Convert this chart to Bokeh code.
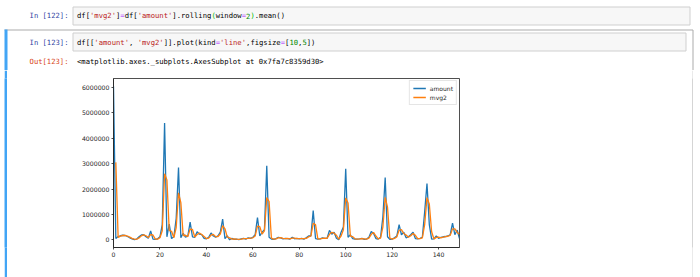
import numpy as np
from bokeh.plotting import figure
from bokeh.layouts import column, row
from bokeh.models import Range1d, FixedTicker, ColumnDataSource, Spacer
from bokeh.core.properties import value
from bokeh.embed import file_html
from bokeh.resources import INLINE

nan = float("nan")

# ---------------- data ----------------
index = list(range(150))
amount = [6050000, 50000, 130000, 160000, 180000, 170000, 130000, 80000, 40000, 10000,
          30000, 120000, 190000, 200000, 120000, 60000, 350000, 30000, 20000, 40000,
          120000, 600000, 4600000, 120000, 620000, 50000, 120000, 850000, 2850000, 80000,
          260000, 100000, 150000, 700000, 120000, 100000, 320000, 220000, 200000, 60000,
          40000, 100000, 270000, 150000, 100000, 160000, 300000, 820000, 50000, 160000,
          0, 60000, 20000, 30000, 10000, 40000, 60000, 30000, 80000, 60000,
          100000, 200000, 880000, 150000, 300000, 400000, 2920000, 100000, 30000, 20000,
          50000, 100000, 80000, 40000, 60000, 50000, 30000, 100000, 40000, 60000,
          40000, 60000, 30000, 80000, 150000, 150000, 1150000, 50000, 30000, 40000,
          80000, 60000, 60000, 370000, 220000, 300000, 60000, 0, 300000, 500000,
          2800000, 100000, 200000, 50000, 30000, 30000, 40000, 60000, 20000, 30000,
          100000, 330000, 250000, 50000, 30000, 100000, 900000, 2450000, 120000, 20000,
          30000, 80000, 150000, 600000, 200000, 300000, 80000, 120000, 200000, 300000,
          50000, 40000, 60000, 100000, 1100000, 2220000, 600000, 30000, 40000, 150000,
          60000, 100000, 120000, 130000, 150000, 200000, 660000, 200000, 380000, 50000]
mvg2 = [nan, 3050000, 90000, 145000, 170000, 175000, 150000, 105000, 60000, 25000,
        20000, 75000, 155000, 195000, 160000, 90000, 205000, 190000, 25000, 30000,
        80000, 360000, 2600000, 2360000, 370000, 335000, 85000, 485000, 1850000, 1465000,
        170000, 180000, 125000, 425000, 410000, 110000, 210000, 270000, 210000, 130000,
        50000, 70000, 185000, 210000, 125000, 130000, 230000, 560000, 435000, 105000,
        80000, 30000, 40000, 25000, 20000, 25000, 50000, 45000, 55000, 70000,
        80000, 150000, 540000, 515000, 225000, 350000, 1660000, 1510000, 65000, 25000,
        35000, 75000, 90000, 60000, 50000, 55000, 40000, 65000, 70000, 50000,
        50000, 50000, 45000, 55000, 115000, 150000, 650000, 600000, 40000, 35000,
        60000, 70000, 60000, 215000, 295000, 260000, 180000, 30000, 150000, 400000,
        1650000, 1450000, 150000, 125000, 40000, 30000, 35000, 50000, 40000, 25000,
        65000, 215000, 290000, 150000, 40000, 65000, 500000, 1675000, 1285000, 70000,
        25000, 55000, 115000, 375000, 400000, 250000, 190000, 100000, 160000, 250000,
        175000, 45000, 50000, 80000, 600000, 1660000, 1410000, 315000, 35000, 95000,
        105000, 80000, 110000, 125000, 140000, 175000, 430000, 430000, 290000, 215000]
series_names = ["amount", "mvg2"]
x_ticks = [0, 20, 40, 60, 80, 100, 120, 140]
x_tick_labels = ["0", "20", "40", "60", "80", "100", "120", "140"]
y_ticks = [0, 1000000, 2000000, 3000000, 4000000, 5000000, 6000000]
y_tick_labels = ["0", "1000000", "2000000", "3000000", "4000000", "5000000", "6000000"]

cell1_prompt = "In [122]:"
cell1_code = [("df[", "#000000"), ("'mvg2'", "#BA2121"), ("]", "#000000"), ("=", "#AA22FF"),
              ("df[", "#000000"), ("'amount'", "#BA2121"), ("].rolling", "#000000"),
              ("(", "#00BB00"), ("window", "#000000"), ("=", "#AA22FF"), ("2", "#008800"),
              (")", "#00BB00"), (".mean()", "#000000")]
cell2_prompt = "In [123]:"
cell2_code = [("df[[", "#000000"), ("'amount'", "#BA2121"), (", ", "#000000"), ("'mvg2'", "#BA2121"),
              ("]].plot(kind", "#000000"), ("=", "#AA22FF"), ("'line'", "#BA2121"), (",figsize", "#000000"),
              ("=", "#AA22FF"), ("[", "#000000"), ("10", "#008800"), (",", "#000000"), ("5", "#008800"),
              ("])", "#000000")]
out_prompt = "Out[123]:"
out_text = "<matplotlib.axes._subplots.AxesSubplot at 0x7fa7c8359d30>"

# ---------------- page geometry (pixels) ----------------
W, H = 700, 277
TOP_H = 70                     # notebook header strip height
BAR_L, BAR_R = 4, 7            # selected-cell blue bar
CELL_R = 692                   # selected-cell right border
FL, FR, FT, FB = 113, 459, 78, 247   # matplotlib axes frame on the page

MONO_FONT = "DejaVu Sans Mono"
MONO = 7.2
CW = MONO * 0.60205
BAR = "#42A5F5"
CELL_BORDER = "#ababab"


def blank(w, h, fill="white"):
    f = figure(width=w, height=h, output_backend="svg", toolbar_location=None,
               x_range=Range1d(0, w), y_range=Range1d(h, 0),
               x_axis_type=None, y_axis_type=None,
               min_border=0, min_border_left=0, min_border_right=0,
               min_border_top=0, min_border_bottom=0)
    f.outline_line_color = None
    f.grid.visible = False
    f.background_fill_color = fill
    f.border_fill_color = fill
    return f


# ---------------- header strip ----------------
top = blank(W, TOP_H)
top.quad(left=[72.5, 72.5], right=[689.5, 685.5], top=[6.5, 32.5], bottom=[24.5, 50.5],
         fill_color="#f7f7f7", line_color="#cfcfcf", line_width=1)
top.segment(x0=[BAR_L, CELL_R + 0.5], y0=[29.5, 29.5], x1=[CELL_R + 0.5, CELL_R + 0.5], y1=[29.5, TOP_H],
            line_color=CELL_BORDER, line_width=1)
top.quad(left=[BAR_L], right=[BAR_R], top=[29], bottom=[TOP_H], fill_color=BAR, line_color=None)

tx, ty, tt, tc = [], [], [], []


def add_text(x, y, s, c):
    tx.append(x); ty.append(y); tt.append(s); tc.append(c)


def code_line(x0, y, segs):
    n = 0
    for s, c in segs:
        add_text(x0 + n * CW, y, s, c)
        n += len(s)


code_line(76.5, 15, cell1_code)
code_line(76.5, 41.5, cell2_code)
add_text(76.5, 60.5, out_text, "#000000")
top.text(x=tx, y=ty, text=tt, text_color=tc, text_font=value(MONO_FONT),
         text_font_size=value(f"{MONO}px"), text_align="left", text_baseline="middle")
top.text(x=[68, 68, 68], y=[15, 41.5, 60.5], text=[cell1_prompt, cell2_prompt, out_prompt],
         text_color=["#303F9F", "#303F9F", "#D84315"], text_font=value(MONO_FONT),
         text_font_size=value(f"{MONO}px"), text_align="right", text_baseline="middle")

# ---------------- side pieces beside the chart ----------------
PH = H - TOP_H
bar = blank(BAR_R - BAR_L, PH, fill=BAR)
rborder = blank(1, PH, fill=CELL_BORDER)

# ---------------- the chart ----------------
PW = CELL_R - BAR_R
lo, hi = min(amount), max(amount)
pad = 0.05 * (hi - lo)

p = figure(width=PW, height=PH, output_backend="svg", toolbar_location=None,
           x_range=Range1d(index[0], index[-1]), y_range=Range1d(lo - pad, hi + pad),
           min_border_left=FL - BAR_R, min_border_right=CELL_R - FR,
           min_border_top=FT - TOP_H, min_border_bottom=H - FB)
p.background_fill_color = "white"
p.border_fill_color = "white"
p.outline_line_color = "#222222"
p.outline_line_width = 0.8
p.grid.visible = False

src = ColumnDataSource(dict(x=index, amount=np.array(amount, dtype=float), mvg2=np.array(mvg2, dtype=float)))
p.line("x", "amount", source=src, color="#1f77b4", line_width=1.3, legend_label=series_names[0])
p.line("x", "mvg2", source=src, color="#ff7f0e", line_width=1.3, legend_label=series_names[1])

p.xaxis.ticker = FixedTicker(ticks=x_ticks)
p.xaxis.major_label_overrides = {t: s for t, s in zip(x_ticks, x_tick_labels)}
p.yaxis.ticker = FixedTicker(ticks=y_ticks)
p.yaxis.major_label_overrides = {t: s for t, s in zip(y_ticks, y_tick_labels)}
for ax in (p.xaxis[0], p.yaxis[0]):
    ax.axis_line_color = "#222222"
    ax.axis_line_width = 0.8
    ax.major_tick_line_color = "#222222"
    ax.major_tick_line_width = 0.8
    ax.major_tick_out = 2
    ax.major_tick_in = 0
    ax.minor_tick_out = 0
    ax.minor_tick_in = 0
    ax.major_label_standoff = 2
    ax.major_label_text_font = "DejaVu Sans"
    ax.major_label_text_font_size = "6.2px"
    ax.major_label_text_color = "#262626"

lg = p.legend[0]
lg.location = "top_right"
lg.margin = 2
lg.padding = 3
lg.spacing = 1
lg.glyph_width = 13
lg.glyph_height = 8
lg.label_height = 8
lg.label_standoff = 4
lg.label_text_font = "DejaVu Sans"
lg.label_text_font_size = "6px"
lg.label_text_color = "#262626"
lg.border_line_color = "#cccccc"
lg.border_line_width = 0.8
lg.background_fill_alpha = 0.8

bottom = row(Spacer(width=BAR_L, height=PH), bar, p, rborder, Spacer(width=W - CELL_R - 1, height=PH), spacing=0)
layout = column(top, bottom, spacing=0)

open("out.html", "w").write(file_html(layout, INLINE))
